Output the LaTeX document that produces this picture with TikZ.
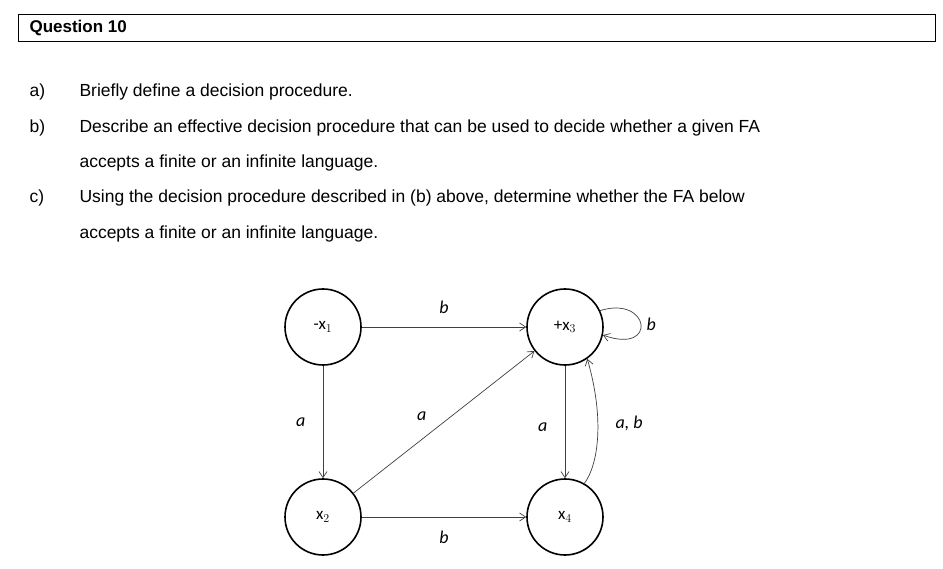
\documentclass[tikz,border=0pt]{standalone}
\usepackage{fontspec}
\setmainfont{Liberation Sans}
\newfontfamily\carlitofam{Carlito}
\usetikzlibrary{arrows.meta}
\begin{document}
\begin{tikzpicture}[x=1pt,y=-1pt,
  st/.style={circle,draw,line width=1.6pt,minimum size=76pt,inner sep=0pt,font=\carlitofam\fontsize{17}{17}\selectfont},
  tr/.style={draw=black!75,line width=0.7pt,-{Straight Barb[length=6pt,width=8pt]}},
  lb/.style={font=\carlitofam\itshape\fontsize{18}{18}\selectfont},
  tx/.style={anchor=base west,font=\fontsize{17.5}{17.5}\selectfont}]
\useasboundingbox (0,0) rectangle (943,569);
\fill[white] (0,0) rectangle (943,569);
\node[draw,line width=0.8pt,minimum width=917pt,minimum height=27pt,anchor=north west] (hdr) at (18,14) {};
\node[anchor=west,font=\bfseries\fontsize{17}{17}\selectfont] (q) at (26,28) {Question 10};
\node[tx] (la) at (26,97) {a)}; \node[tx] (ta) at (76,97) {Briefly define a decision procedure.};
\node[tx] (lb1) at (26,133) {b)}; \node[tx] (tb) at (76,133) {Describe an effective decision procedure that can be used to decide whether a given FA};
\node[tx] (tb2) at (76,168) {accepts a finite or an infinite language.};
\node[tx] (lc) at (26,203) {c)}; \node[tx] (tc) at (76,203) {Using the decision procedure described in (b) above, determine whether the FA below};
\node[tx] (tc2) at (76,239) {accepts a finite or an infinite language.};
\node[st] (x1) at (323,327) {-x$_1$};
\node[st] (x3) at (565,327) {+x$_3$};
\node[st] (x2) at (323,517) {x$_2$};
\node[st] (x4) at (565,517) {x$_4$};
\draw[tr] (x1) -- node[lb,above=10pt] {b} (x3);
\draw[tr] (x1) -- node[lb,left=14pt] {a} (x2);
\draw[tr] (x2) -- node[lb,above left=5pt,pos=0.45] {a} (x3);
\draw[tr] (x2) -- node[lb,below=10pt] {b} (x4);
\draw[tr] (x3) -- node[lb,left=14pt,pos=0.55] {a} (x4);
\draw[tr] (x4.60) .. controls (598,465) and (605,420) .. node[lb,right=14pt,pos=0.6] {a, b} (x3.-55);
\draw[tr] (x3.25) .. controls (650,295) and (658,355) .. node[lb,right=2pt,pos=0.5] {b} (x3.-12);
\end{tikzpicture}
\end{document}
